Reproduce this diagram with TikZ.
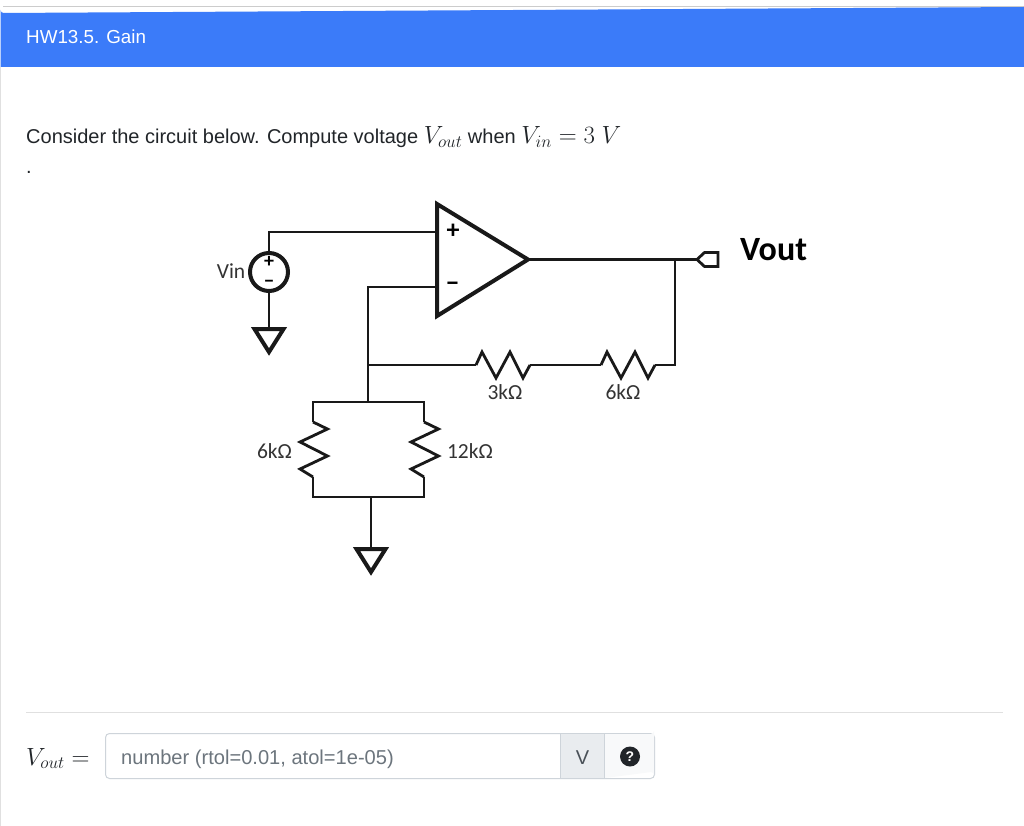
\documentclass[tikz,border=0pt]{standalone}
\usepackage{amsmath}
\usepackage{fontspec}
\setmainfont{Liberation Sans}
\newfontfamily\cirfont{Carlito}
\usepackage{tikz}
\usetikzlibrary{positioning,calc}
\definecolor{headblue}{HTML}{3B7BF9}
\definecolor{bodytext}{HTML}{212529}
\definecolor{hintgray}{HTML}{6C757D}
\definecolor{unitgray}{HTML}{495057}
\definecolor{boxline}{HTML}{CED4DA}
\definecolor{unitfill}{HTML}{E9ECEF}
\definecolor{helpfill}{HTML}{F8F9FA}
\definecolor{cirlabel}{HTML}{333333}
\tikzset{
    pagetext/.style={anchor=base west, inner sep=0pt, text=bodytext, font=\fontsize{20}{24}\selectfont},
    wire/.style={line width=2.8pt, black!90, line join=miter},
    heavy/.style={line width=4pt, black!90, line join=miter},
    cirtext/.style={inner sep=0pt, text=cirlabel, font=\cirfont\fontsize{21.5}{24}\selectfont},
    signtext/.style={inner sep=0pt, text=black, font=\cirfont\bfseries\fontsize{26}{28}\selectfont},
    smallsign/.style={signtext, font=\cirfont\bfseries\fontsize{20}{22}\selectfont},
    groundtri/.pic={
        \coordinate (-top) at (0,0);
        \draw[heavy] (-14.5,0) -- (14.5,0) -- (0,23) -- cycle;
    },
    resh/.pic={
        \coordinate (-in) at (0,0);
        \coordinate (-out) at (54,0);
        \draw[wire] (-in) -- (6,-13) -- (20,13) -- (34,-13) -- (47,13) -- (-out);
    },
    resv/.pic={
        \coordinate (-in) at (0,0);
        \coordinate (-out) at (0,55);
        \draw[wire] (-in) -- (14.5,7) -- (-13,20) -- (14.5,34) -- (-13,47) -- (-out);
    }
}
\begin{document}
\begin{tikzpicture}[x=1pt,y=-1pt]
    \useasboundingbox (0,0) rectangle (1024,826);
    % page frame
    \fill[white] (0,0) rectangle (1024,826);
    \draw[black!12, line width=1pt] (0.5,826) -- (0.5,67);
    \draw[black!20, line width=1pt] (3,6.5) -- (1024,6.5);
    \fill[headblue] (0.5,67) -- (0.5,10) arc[start angle=180, end angle=90, radius=3] -- (1024,7) -- (1024,67) -- cycle;
    \node[pagetext, text=white, font=\fontsize{18.8}{24}\selectfont] (title) at (26,44) {HW13.5. Gain};
    \node[pagetext] (question) at (26,143.5) {Consider the circuit below. Compute voltage {\fontsize{24}{28}\selectfont $V_{out}$} when {\fontsize{24}{28}\selectfont $V_{in}=3\ V$}};
    \node[pagetext] (stop) at (26,173.5) {.};
    % opamp
    \coordinate (optop) at (437,204);
    \coordinate (opbot) at (437,316);
    \coordinate (optip) at (528,259.5);
    \coordinate (opplus) at (437,232);
    \coordinate (opminus) at (437,287);
    \draw[heavy] (optop) -- (optip) -- (opbot) -- cycle;
    \node[signtext] (plussign) at (453,231) {+};
    \node[signtext] (minussign) at (452.5,287) {−};
    % source
    \node[circle, draw=black!90, line width=4pt, minimum size=38pt, inner sep=0pt] (Vs) at (269,272) {};
    \node[smallsign] (splus) at (269,261.5) {+};
    \node[smallsign] (sminus) at (269,283.5) {−};
    \node[cirtext, anchor=east] (vinlabel) at (245.5,271) {Vin};
    \draw[wire] (Vs.north) |- (opplus);
    \pic (gndS) at (269,329) {groundtri};
    \draw[wire] (Vs.south) -- (gndS-top);
    % output
    \coordinate (outjoin) at (675,259.5);
    \coordinate (pintip) at (697,259.5);
    \coordinate (pintop) at (704.5,252.5);
    \coordinate (pinbot) at (704.5,266.5);
    \coordinate (pinright) at (718,252.5);
    \coordinate (pinlow) at (718,266.5);
    \draw[wire] (pintip) -- (pintop) -- (pinright) -- (pinlow) -- (pinbot) -- cycle;
    \draw[wire] (optip) -- (pintip);
    \node[inner sep=0pt, anchor=base west, text=black, font=\cirfont\bfseries\fontsize{34}{38}\selectfont] (voutlabel) at (740,260) {Vout};
    % feedback
    \coordinate (fbjoin) at (368,365);
    \coordinate (fbcorner) at (675,365);
    \pic (rthree) at (476,365) {resh};
    \pic (rsix) at (601,365) {resh};
    \draw[wire] (opminus) -| (fbjoin);
    \draw[wire] (fbjoin) -- (rthree-in);
    \draw[wire] (rthree-out) -- (rsix-in);
    \draw[wire] (rsix-out) -- (fbcorner) -- (outjoin);
    \node[cirtext] (rthreelabel) at (505,392) {3kΩ};
    \node[cirtext] (rsixlabel) at (623,392) {6kΩ};
    % parallel pair
    \coordinate (topjoin) at (368,402);
    \coordinate (topleft) at (313,402);
    \coordinate (topright) at (424,402);
    \coordinate (botleft) at (313,497);
    \coordinate (botright) at (424,497);
    \coordinate (botjoin) at (371,497);
    \pic (rleft) at (313,422) {resv};
    \pic (rright) at (424,422) {resv};
    \draw[wire] (fbjoin) -- (topjoin);
    \draw[wire] (rleft-in) -- (topleft) -- (topright) -- (rright-in);
    \draw[wire] (rleft-out) -- (botleft) -- (botright) -- (rright-out);
    \node[cirtext] (rleftlabel) at (274.5,451) {6kΩ};
    \node[cirtext] (rrightlabel) at (470,451) {12kΩ};
    \pic (gndR) at (371,549) {groundtri};
    \draw[wire] (botjoin) -- (gndR-top);
    % answer row
    \draw[black!12, line width=1pt] (26,712.5) -- (1003,712.5);
    \node[pagetext] (answer) at (26,765) {{\fontsize{24}{28}\selectfont $V_{out}=$}};
    \draw[boxline, line width=1pt, rounded corners=4pt] (105.5,733.5) rectangle (654.5,778.5);
    \fill[unitfill] (561,734) rectangle (604,778);
    \fill[helpfill] (605,734) -- (651,734) arc[start angle=90, end angle=0, radius=3] -- (654,775) arc[start angle=0, end angle=-90, radius=3] -- (605,778) -- cycle;
    \draw[boxline, line width=1pt] (560.5,733.5) -- (560.5,778.5);
    \draw[boxline, line width=1pt] (604.5,733.5) -- (604.5,778.5);
    \node[pagetext, text=hintgray, font=\fontsize{20.1}{24}\selectfont] (hint) at (121,764) {number (rtol=0.01, atol=1e-05)};
    \node[pagetext, text=unitgray, anchor=base] (unit) at (582.5,764) {V};
    \node[circle, fill=bodytext, minimum size=20pt, inner sep=0pt, text=white, font=\bfseries\fontsize{14}{14}\selectfont] (help) at (630,756.5) {?};
\end{tikzpicture}
\end{document}
